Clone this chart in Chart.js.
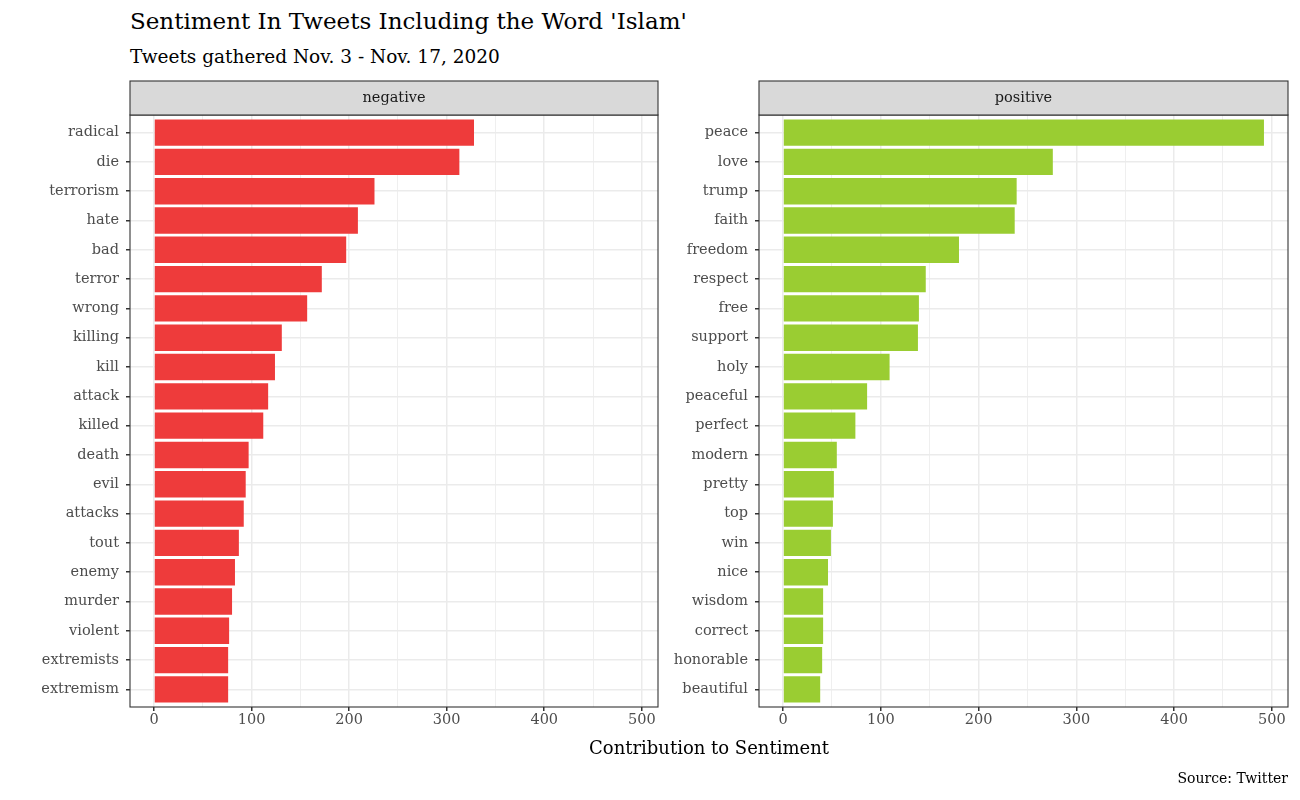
<!DOCTYPE html>
<html>
<head>
<meta charset="utf-8">
<script src="https://cdn.jsdelivr.net/npm/chart.js@4.4.1/dist/chart.umd.min.js"></script>
<style>
  body { margin: 0; background: #fff; font-family: "DejaVu Serif", serif; }
  #wrap { position: relative; width: 1300px; height: 800px; overflow: hidden; }
  .txt { position: absolute; white-space: nowrap; line-height: 1; }
  #title { left: 130px; top: 10px; font-size: 23px; color: #000; }
  #subtitle { left: 130px; top: 48px; font-size: 18.5px; color: #000; }
  #xtitle { left: 0; width: 1418px; top: 739px; font-size: 18px; text-align: center; color: #000; }
  #caption { right: 12px; top: 771px; font-size: 14px; color: #000; }
  canvas { position: absolute; top: 0; }
</style>
</head>
<body>
<div id="wrap">
  <div class="txt" id="title">Sentiment In Tweets Including the Word 'Islam'</div>
  <div class="txt" id="subtitle">Tweets gathered Nov. 3 - Nov. 17, 2020</div>
  <div style="position:absolute;left:0;top:0;width:660px;height:800px"><canvas id="negChart"></canvas></div>
  <div style="position:absolute;left:660px;top:0;width:640px;height:800px"><canvas id="posChart"></canvas></div>
  <div class="txt" id="xtitle">Contribution to Sentiment</div>
  <div class="txt" id="caption">Source: Twitter</div>
</div>
<script>
// Data
const negWords = ["radical", "die", "terrorism", "hate", "bad", "terror", "wrong", "killing", "kill", "attack",
  "killed", "death", "evil", "attacks", "tout", "enemy", "murder", "violent", "extremists", "extremism"];
const negValues = [328, 313, 226, 209, 197, 172, 157, 131, 124, 117, 112, 97, 94, 92, 87, 83, 80, 77, 76, 76];

const posWords = ["peace", "love", "trump", "faith", "freedom", "respect", "free", "support", "holy", "peaceful",
  "perfect", "modern", "pretty", "top", "win", "nice", "wisdom", "correct", "honorable", "beautiful"];
const posValues = [492, 276, 239, 237, 180, 146, 139, 138, 109, 86, 74, 55, 52, 51, 49, 46, 41, 41, 40, 38];

const xTicks = [0, 100, 200, 300, 400, 500];

// ggplot-like range: 5% expansion of 0..max over both facets
const maxVal = Math.max(...negValues, ...posValues);
const xMin = -0.05 * maxVal;
const xMax = maxVal * 1.05;

Chart.defaults.font.family = "'DejaVu Serif', serif";
Chart.defaults.animation = false;

// panel border + facet strip
const panelPlugin = {
  id: "panel",
  afterDraw(chart, args, opts) {
    const { ctx, chartArea: a } = chart;
    ctx.save();
    ctx.strokeStyle = "#333333";
    ctx.lineWidth = 1.1;
    ctx.strokeRect(a.left, a.top, a.right - a.left, a.bottom - a.top);
    // strip
    ctx.fillStyle = "#D9D9D9";
    ctx.fillRect(a.left, 81, a.right - a.left, a.top - 81);
    ctx.strokeRect(a.left, 81, a.right - a.left, a.top - 81);
    ctx.fillStyle = "#1A1A1A";
    ctx.font = "14.5px 'DejaVu Serif'";
    ctx.textAlign = "center";
    ctx.textBaseline = "middle";
    ctx.fillText(opts.label, (a.left + a.right) / 2, (81 + a.top) / 2);
    ctx.restore();
  },
};

function makeChart(canvasId, words, values, color, label, yWidth, padRight) {
  return new Chart(document.getElementById(canvasId), {
    type: "bar",
    data: {
      datasets: [{
        data: values.map((v, i) => ({ x: v, y: i })),
        backgroundColor: color,
        borderWidth: 0,
        barPercentage: 0.9,
        categoryPercentage: 1,
      }],
    },
    plugins: [panelPlugin],
    options: {
      indexAxis: "y",
      responsive: true,
      maintainAspectRatio: false,
      layout: { padding: { top: 115, right: padRight, bottom: 0, left: 0 } },
      plugins: {
        legend: { display: false },
        tooltip: { enabled: false },
        panel: { label: label },
      },
      scales: {
        x: {
          type: "linear",
          min: xMin,
          max: xMax,
          afterFit: (s) => { s.height = 93; },
          border: { display: false },
          grid: {
            color: "#EBEBEB",
            lineWidth: (c) => (c.tick && c.tick.value % 100 === 0 ? 1.5 : 0.8),
            tickLength: 4,
            tickColor: (c) => (c.tick && c.tick.value % 100 === 0 ? "#333333" : "rgba(0,0,0,0)"),
          },
          ticks: {
            stepSize: 50,
            includeBounds: false,
            maxTicksLimit: 30,
            autoSkip: false,
            maxRotation: 0,
            padding: 1,
            color: "#4D4D4D",
            font: { size: 14.5 },
            callback: (v) => (xTicks.includes(v) ? String(v) : ""),
          },
        },
        y: {
          type: "linear",
          reverse: true,
          offset: false,
          min: -0.6,
          max: words.length - 1 + 0.6,
          afterFit: (s) => { s.width = yWidth; },
          border: { display: false },
          grid: {
            offset: false,
            color: "#EBEBEB",
            lineWidth: 1.5,
            tickLength: 4,
            tickColor: "#333333",
          },
          ticks: {
            stepSize: 1,
            includeBounds: false,
            maxTicksLimit: 40,
            autoSkip: false,
            padding: 7,
            color: "#4D4D4D",
            font: { size: 14.5 },
            callback: (v) => (words[v] !== undefined ? words[v] : ""),
          },
        },
      },
    },
  });
}

makeChart("negChart", negWords, negValues, "#EE3B3B", "negative", 130, 2);
makeChart("posChart", posWords, posValues, "#9ACD32", "positive", 99, 12);
</script>
</body>
</html>
